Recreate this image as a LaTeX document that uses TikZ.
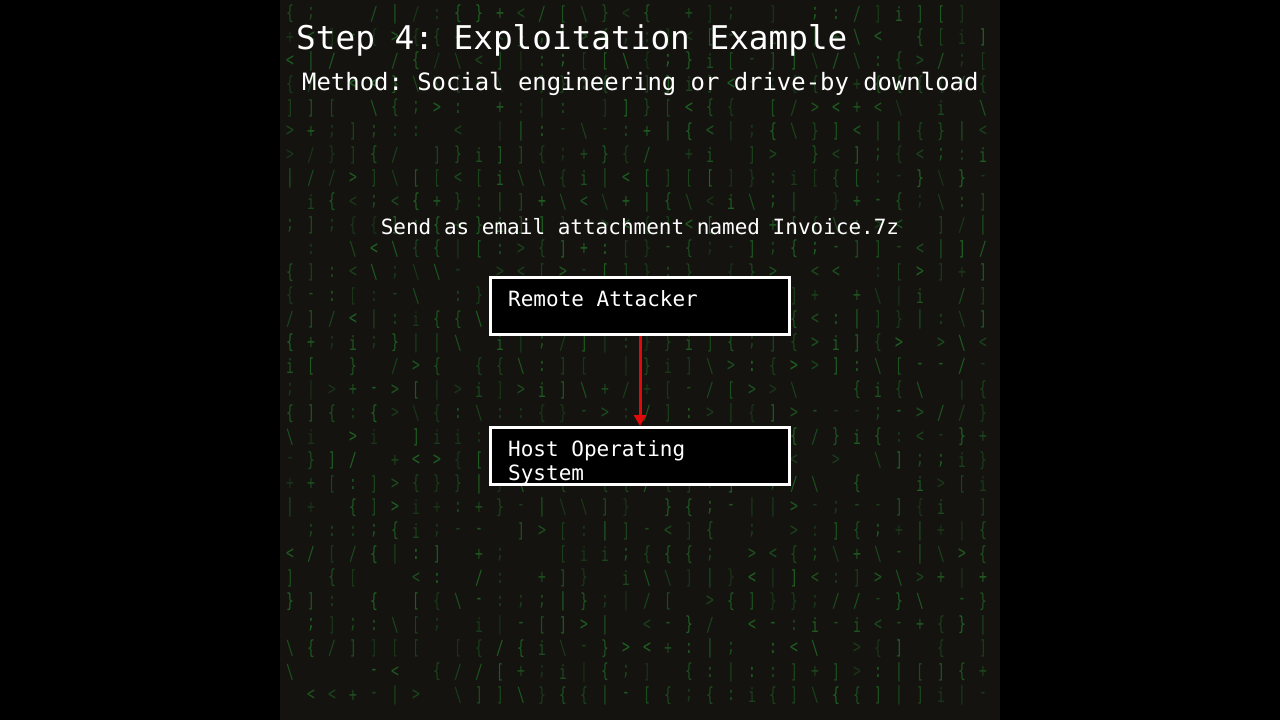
\documentclass[tikz,border=0pt]{standalone}
\usepackage{fontspec}
\setmonofont{DejaVu Sans Mono}
\usetikzlibrary{arrows.meta}
\definecolor{panelbg}{RGB}{20,19,16}
\definecolor{mxgreen}{RGB}{34,125,40}
\definecolor{arrowred}{RGB}{225,10,10}
\newcommand\mxchar[1]{\scalebox{1}[1.5]{\ifcase#1 \{\or\}\or[\or]\or<\or>\or/\or\textbackslash\or|\or-\or+\or:\or;\or i\or\{\or]\or\relax\or\relax\fi}}
\tikzset{
  mx/.style={text=mxgreen, font=\ttfamily\fontsize{13}{13}\selectfont, inner sep=0pt},
  titletext/.style={text=white, font=\ttfamily\fontsize{32.7}{36}\selectfont, inner sep=0pt, anchor=base west},
  subtext/.style={text=white, font=\ttfamily\fontsize{23.9}{28}\selectfont, inner sep=0pt, anchor=base west},
  labeltext/.style={text=white, font=\ttfamily\fontsize{21}{24}\selectfont, inner sep=0pt},
  boxnode/.style={draw=white, line width=3pt, fill=black, minimum width=299pt, minimum height=57pt, inner sep=0pt},
  flow/.style={draw=arrowred, line width=3pt, -{Triangle[length=11pt,width=12pt]}}
}
\begin{document}
\begin{tikzpicture}[x=1pt,y=-1pt]
\useasboundingbox (0,0) rectangle (1280,720);
\fill[black] (0,0) rectangle (1280,720);
\fill[panelbg] (280,0) rectangle (1000,720);
% matrix-style background glyphs
\pgfmathsetseed{4242}
\foreach \c in {0,...,33}{
  \foreach \r in {0,...,29}{
    \pgfmathrandominteger{\k}{0}{17}
    \pgfmathsetmacro{\op}{0.3+0.45*rnd}
    \path (290+21*\c, 14+23.5*\r) node[mx, text opacity=\op] (mx-\c-\r) {\mxchar{\k}};
  }
}
% texts
\node[titletext] (title) at (296,49) {Step 4: Exploitation Example};
\node[subtext] (method) at (302,90) {Method: Social engineering or drive-by download};
\node[labeltext, anchor=base] (send) at (640,234) {Send as email attachment named Invoice.7z};
% boxes
\node[boxnode] (ra) at (640,306) {};
\node[labeltext, anchor=base west] (ratext) at (508,306) {Remote Attacker};
\node[boxnode] (hos) at (640,456) {};
\node[labeltext, anchor=base west, align=left] (hostext) at (508,480) {Host Operating\\System};
% connector
\draw[flow] (ra.south) -- (hos.north);
\end{tikzpicture}
\end{document}
